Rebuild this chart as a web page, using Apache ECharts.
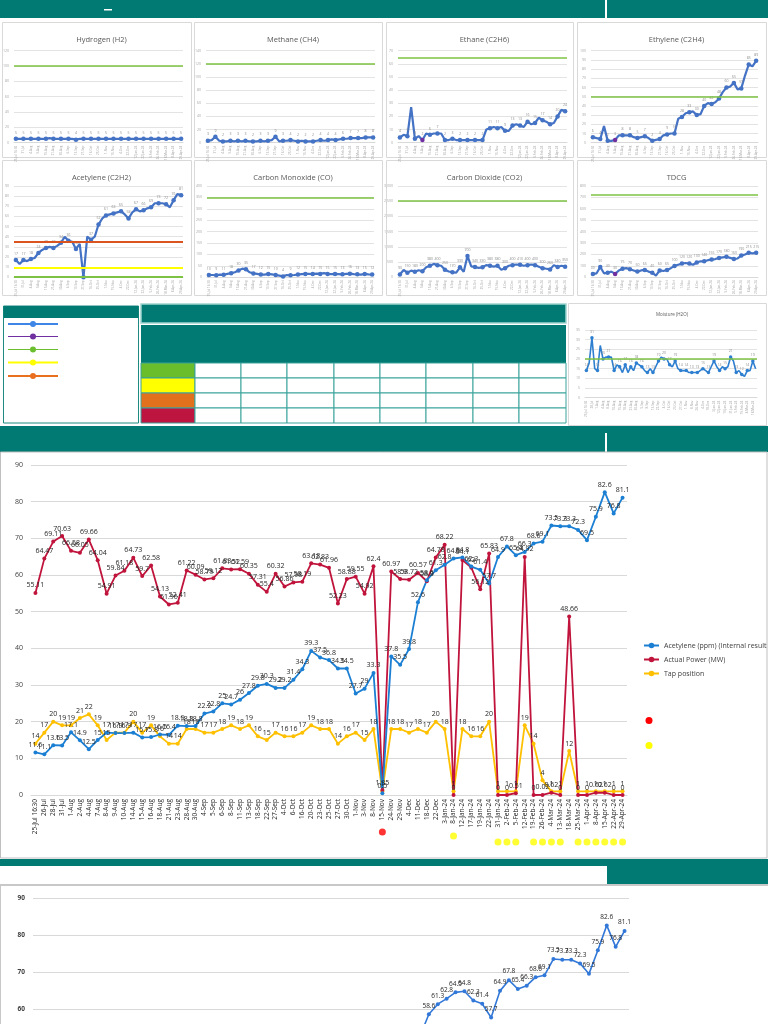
<!DOCTYPE html>
<html>
<head>
<meta charset="utf-8">
<title>DGA trend</title>
<script src="https://cdn.jsdelivr.net/npm/echarts@6/dist/echarts.min.js"></script>
<style>
    html, body { margin: 0; padding: 0; background: #fff; }
    #main { width: 768px; height: 1024px; }
</style>
</head>
<body>
<div id="main"></div>
<script>
// sampling dates (x axis of the big charts)
const dates = ['25-Jul 16:30', '26-Jul', '28-Jul', '31-Jul', '1-Aug', '2-Aug', '4-Aug', '7-Aug', '8-Aug', '9-Aug',
    '10-Aug', '14-Aug', '15-Aug', '16-Aug', '18-Aug', '21-Aug', '23-Aug', '28-Aug', '30-Aug', '4-Sep',
    '5-Sep', '6-Sep', '8-Sep', '11-Sep', '13-Sep', '18-Sep', '22-Sep', '27-Sep', '4-Oct', '6-Oct',
    '16-Oct', '20-Oct', '23-Oct', '25-Oct', '27-Oct', '30-Oct', '1-Nov', '3-Nov', '8-Nov', '15-Nov',
    '24-Nov', '29-Nov', '4-Dec', '11-Dec', '18-Dec', '22-Dec', '3-Jan-24', '8-Jan-24', '12-Jan-24', '17-Jan-24',
    '19-Jan-24', '22-Jan-24', '31-Jan-24', '2-Feb-24', '5-Feb-24', '12-Feb-24', '19-Feb-24', '26-Feb-24', '4-Mar-24', '13-Mar-24',
    '18-Mar-24', '25-Mar-24', '1-Apr-24', '8-Apr-24', '15-Apr-24', '22-Apr-24', '29-Apr-24'];

// Acetylene (ppm) (Internal result)
const acetylene = [11.6, 11.1, 13.6, 13.5, 17.1, 14.9, 12.5, 15, 17, 16.9,
    16.9, 17, 15.7, 15.8, 16.5, 16.4, 18.9, 18.8, 18.8, 22.2,
    22.8, 25, 24.7, 26, 27.8, 29.8, 30.3, 29.2, 29.2, 31.4,
    34.3, 39.3, 37.5, 36.8, 34.5, 34.5, 27.7, 29, 33.3, 0.5,
    37.8, 35.5, 39.8, 52.6, 58.6, 61.3, 62.8, 64.5, 64.8, 62.3,
    61.4, 57.7, 64.9, 67.8, 65.4, 66.3, 68.6, 69.1, 73.5, 73.3,
    73.3, 72.3, 69.5, 75.9, 82.6, 76.8, 81.1];

// Actual Power (MW)
const actualPower = [55.11, 64.47, 69.11, 70.63, 66.58, 66.05, 69.66, 64.04, 54.91, 59.84,
    61.18, 64.73, 59.7, 62.58, 54.13, 51.96, 52.41, 61.22, 60.09, 58.79,
    59.12, 61.83, 61.52, 61.59, 60.35, 57.31, 55.4, 60.32, 56.86, 57.98,
    58.19, 63.18, 62.83, 61.96, 52.23, 58.88, 59.55, 54.92, 62.4, 1.35,
    60.97, 58.9, 58.72, 60.57, 58.3, 64.78, 68.22, 0, 64.1, 62,
    56.12, 65.83, 0, 0, 0.51, 64.92, 0, 0.02, 0.62, 0,
    48.66, 0, 0, 0.62, 0.62, 0, 0];

// Tap position
const tapPosition = [14, 17, 20, 19, 19, 21, 22, 19, 15, 17,
    17, 20, 17, 19, 16, 14, 14, 18, 18, 17,
    17, 18, 19, 18, 19, 16, 15, 17, 16, 16,
    17, 19, 18, 18, 14, 16, 17, 15, 18, 1,
    18, 18, 17, 18, 17, 20, 18, 1, 18, 16,
    16, 20, 1, 1, 1, 19, 14, 4, 1, 1,
    12, 1, 1, 1, 1, 1, 1];

// dates flagged under the axis
const powerOffIdx = [39];
const tapOffIdx = [47, 52, 53, 54, 56, 57, 58, 59, 61, 62, 63, 64, 65, 66];

// small gas trend charts
const h2Data = [5, 5, 5, 5, 5, 5, 5, 5, 5, 6, 5, 5, 5, 5, 5, 5, 4, 5, 5, 5, 5, 5, 5,
    5, 5, 5, 5, 5, 5, 5, 5, 5, 5, 5, 5, 5, 5, 5, 5, 5, 5, 5, 5, 5, 5];
const ch4Data = [3, 4, 9, 3, 2, 2, 3, 2, 3, 2, 3, 2, 2, 2, 3, 2, 3, 4, 9, 2, 3, 3, 4,
    3, 2, 3, 2, 2, 2, 3, 4, 3, 4, 5, 4, 5, 6, 6, 7, 7, 7, 7, 8, 8, 8];
const c2h6Data = [4, 6, 5, 27, 3, 5, 2, 7, 6, 7, 7, 7, 2, 2, 3, 2, 2, 2, 2, 2, 2, 2, 2,
    10, 11, 12, 11, 12, 9, 9, 13, 14, 13, 12, 16, 14, 15, 19, 17, 16, 14, 15, 20, 25, 24];
const c2h4Data = [6, 5, 4, 18, 2, 2, 3, 8, 8, 8, 8, 6, 5, 6, 7, 5, 2, 3, 4, 8, 9, 10, 10,
    26, 28, 32, 33, 34, 30, 31, 40, 43, 42, 44, 48, 55, 60, 61, 65, 58, 59, 73, 85, 83, 89];
const c2h2Data = [17, 13, 17, 16, 18, 19, 24, 27, 29, 30, 29, 31, 34, 40, 36, 35, 28, 33, 0,
    40, 37, 40, 52, 58, 61, 62, 63, 64, 65, 62, 58, 64, 67, 65, 66, 68, 69, 73, 73, 73, 72, 69, 76, 82, 81];
const coData = [10, 10, 9, 12, 11, 15, 18, 22, 30, 38, 35, 22, 17, 15, 12, 12, 15, 13, 10, 7, 4, 10, 9,
    10, 12, 14, 15, 15, 14, 16, 15, 18, 15, 14, 15, 14, 13, 15, 16, 14, 13, 12, 15, 13, 12];
const co2Data = [90, 240, 150, 220, 180, 230, 200, 330, 380, 440, 400, 380, 250, 190, 170, 150, 330, 180, 700, 360, 340, 310, 330,
    400, 380, 350, 380, 250, 300, 380, 400, 420, 410, 380, 400, 420, 400, 350, 300, 280, 260, 400, 340, 380, 350];
const tdcgData = [30, 35, 90, 35, 40, 50, 30, 60, 75, 80, 70, 60, 50, 60, 65, 50, 40, 15, 60, 55, 65, 80, 100,
    110, 120, 125, 120, 110, 130, 140, 140, 150, 155, 160, 170, 175, 180, 170, 160, 165, 190, 200, 215, 210, 215];
const moistureData = [14, 18, 31, 15, 14, 27, 20, 21, 21, 21, 14, 17, 16, 13, 17, 13, 16, 14, 18, 17, 16,
    14, 13, 15, 13, 16, 19, 21, 20, 20, 17, 16, 19, 15, 14, 14, 14, 13, 13, 13, 13, 14,
    15, 14, 13, 16, 19, 16, 14, 16, 15, 16, 21, 19, 13, 14, 12, 11, 14, 14, 19, 15];

// limit lines
const h2Limit = 100;
const ch4Limit = 120;
const c2h6Limit = 65;
const c2h4Limit = 50;
const c2h2Limits = [35, 9, 1];
const coLimit = 350;
const co2Limit = 2500;
const tdcgLimit = 720;
const moistureLimit = 20;

const miniDates = dates.filter(function (d, i) { return i % 3 !== 2; });

const teal = '#007a72';
const miniBlue = '#4472c4';
const green = '#7dc242';

// small panels: box = frame, plot = grid rect
const panels = [
    {title: 'Hydrogen (H2)', data: h2Data, cats: miniDates, max: 120, step: 20, limits: [[h2Limit, green]], box: [2, 22, 189, 135], plot: [14, 50.7, 169, 92]},
    {title: 'Methane (CH4)', data: ch4Data, cats: miniDates, max: 140, step: 20, limits: [[ch4Limit, green]], box: [194, 22, 188, 135], plot: [206, 50.7, 169, 92]},
    {title: 'Ethane (C2H6)', data: c2h6Data, cats: miniDates, max: 70, step: 10, limits: [[c2h6Limit, green]], box: [386, 22, 187, 135], plot: [398, 50.7, 169, 92], purple: [6]},
    {title: 'Ethylene (C2H4)', data: c2h4Data, cats: miniDates, max: 100, step: 10, limits: [[c2h4Limit, green]], box: [577, 22, 189, 135], plot: [591, 50.7, 167, 92], purple: [6, 19]},
    {title: 'Acetylene (C2H2)', data: c2h2Data, cats: miniDates, max: 90, step: 10, limits: [[c2h2Limits[0], '#d9541e'], [c2h2Limits[1], '#ffff00'], [c2h2Limits[2], green]], box: [2, 160, 189, 135], plot: [14, 186, 169, 91.3], purple: [5, 19]},
    {title: 'Carbon Monoxide (CO)', data: coData, cats: miniDates, max: 400, step: 50, limits: [[coLimit, green]], box: [194, 160, 188, 135], plot: [207, 186, 167, 91.3], purple: [7]},
    {title: 'Carbon Dioxide (CO2)', data: co2Data, cats: miniDates, max: 3000, step: 500, limits: [[co2Limit, green]], box: [386, 160, 187, 135], plot: [398, 186, 169, 91.3]},
    {title: 'TDCG', data: tdcgData, cats: miniDates, max: 800, step: 100, limits: [[tdcgLimit, green]], box: [577, 160, 189, 135], plot: [591, 186, 167, 91.3], purple: [6]},
    {title: 'Moisture (H2O)', data: moistureData, cats: dates.slice(0, moistureData.length), max: 35, step: 5, limits: [[moistureLimit, green]], box: [568, 303, 198, 122], plot: [585, 330, 172, 67.7], small: true}
];

let option = {
    animation: false,
    backgroundColor: '#fff',
    textStyle: {fontFamily: 'Open Sans, Noto Sans, sans-serif'},
    title: [],
    grid: [],
    xAxis: [],
    yAxis: [],
    series: [],
    graphic: []
};

//小图
panels.forEach(function (p, i) {
    option.title.push({
        text: p.title,
        left: p.box[0] + p.box[2] / 2,
        top: p.small ? p.box[1] + 4 : p.box[1] + 9,
        textAlign: 'center',
        textStyle: {fontSize: p.small ? 4.5 : 7.5, fontWeight: 'normal', color: '#595959'}
    });
    option.grid.push({left: p.plot[0], top: p.plot[1], width: p.plot[2], height: p.plot[3], outerBoundsMode: 'none'});
    option.xAxis.push({
        type: 'category', gridIndex: i, data: p.cats,
        axisLine: {lineStyle: {color: '#d9d9d9'}},
        axisTick: {show: false},
        axisLabel: {rotate: 90, interval: 1, fontSize: 3, color: '#a6a6a6', margin: 3}
    });
    option.yAxis.push({
        type: 'value', gridIndex: i, min: 0, max: p.max, interval: p.step,
        splitLine: {lineStyle: {color: '#e3e3e3'}},
        axisLabel: {fontSize: 3.5, color: '#a6a6a6', margin: 5}
    });
    let purple = p.purple || [];
    option.series.push({
        type: 'line', xAxisIndex: i, yAxisIndex: i,
        data: p.data.map(function (v, k) {
            return purple.indexOf(k) >= 0 ? {value: v, itemStyle: {color: '#7030a0'}} : v;
        }),
        symbol: 'circle', symbolSize: p.small ? 3.5 : 4.5,
        lineStyle: {width: p.small ? 1.6 : 2.2, color: p.small ? '#2e7fd0' : miniBlue},
        itemStyle: {color: p.small ? '#2e7fd0' : miniBlue},
        label: {show: true, position: 'top', distance: 2, fontSize: 3.5, color: '#8c8c8c'},
        markLine: {
            silent: true, symbol: 'none', label: {show: false},
            data: p.limits.map(function (l) {
                return {yAxis: l[0], lineStyle: {color: l[1], width: i === 4 ? 2.2 : 1.6, type: 'solid'}};
            })
        }
    });
    option.graphic.push({type: 'rect', shape: {x: p.box[0] + 0.5, y: p.box[1] + 0.5, width: p.box[2], height: p.box[3]},
        style: {fill: 'none', stroke: '#d9d9d9', lineWidth: 1}});
});

//主图
let mainIdx = option.grid.length;
option.grid.push({left: 31, top: 465, width: 596, height: 330, outerBoundsMode: 'none'});
option.xAxis.push({
    type: 'category', gridIndex: mainIdx, data: dates,
    axisLine: {lineStyle: {color: '#d9d9d9'}},
    axisTick: {show: false},
    axisLabel: {rotate: 90, interval: 0, fontSize: 6.5, color: '#262626', margin: 4}
});
option.yAxis.push({
    type: 'value', gridIndex: mainIdx, min: 0, max: 90, interval: 10,
    splitLine: {lineStyle: {color: '#d9d9d9'}},
    axisLabel: {fontSize: 7, color: '#404040', margin: 8}
});
let mainLabel = {show: true, position: 'top', distance: 2, fontSize: 7, color: '#262626'};
option.series.push({
    name: 'Tap position', type: 'line', xAxisIndex: mainIdx, yAxisIndex: mainIdx, data: tapPosition,
    symbol: 'circle', symbolSize: 4, lineStyle: {width: 1.8, color: '#ffc000'}, itemStyle: {color: '#ffc000'},
    label: mainLabel
});
option.series.push({
    name: 'Actual Power (MW)', type: 'line', xAxisIndex: mainIdx, yAxisIndex: mainIdx, data: actualPower,
    symbol: 'circle', symbolSize: 4, lineStyle: {width: 1.8, color: '#c0143c'}, itemStyle: {color: '#c0143c'},
    label: mainLabel
});
option.series.push({
    name: 'Acetylene (ppm) (Internal result', type: 'line', xAxisIndex: mainIdx, yAxisIndex: mainIdx, data: acetylene,
    symbol: 'circle', symbolSize: 4, lineStyle: {width: 1.8, color: '#1b7fd3'}, itemStyle: {color: '#1b7fd3'},
    label: mainLabel
});
// 轴下标记点
let marks = powerOffIdx.map(function (k) {
    return {value: [k, -10.1], itemStyle: {color: '#ff0000'}};
}).concat(tapOffIdx.map(function (k) {
    return {value: [k, k === 47 ? -11.2 : -12.8], itemStyle: {color: '#ffff00'}};
}));
option.series.push({
    name: 'marks', type: 'scatter', xAxisIndex: mainIdx, yAxisIndex: mainIdx, data: marks,
    symbolSize: 7, clip: false, silent: true
});
option.legend = {
    data: ['Acetylene (ppm) (Internal result', 'Actual Power (MW)', 'Tap position'],
    orient: 'vertical', left: 638, top: 637, itemWidth: 15, itemHeight: 7, itemGap: 7,
    textStyle: {fontSize: 7, color: '#404040'}
};

//底部图（下方被截断）
let lowIdx = option.grid.length;
option.grid.push({left: 33, top: 898, width: 596, height: 333, outerBoundsMode: 'none'});
option.xAxis.push({
    type: 'category', gridIndex: lowIdx, data: dates,
    axisLine: {lineStyle: {color: '#d9d9d9'}}, axisTick: {show: false}, axisLabel: {show: false}
});
option.yAxis.push({
    type: 'value', gridIndex: lowIdx, min: 0, max: 90, interval: 10,
    splitLine: {lineStyle: {color: '#d9d9d9'}},
    axisLabel: {fontSize: 6.5, color: '#404040', margin: 8, fontWeight: 'bold'}
});
option.series.push({
    type: 'line', xAxisIndex: lowIdx, yAxisIndex: lowIdx, data: acetylene,
    symbol: 'circle', symbolSize: 4, lineStyle: {width: 1.6, color: '#3278d8'}, itemStyle: {color: '#3278d8'},
    label: {show: true, position: 'top', distance: 3, fontSize: 6.5, color: '#262626'}
});

//装饰
let g = option.graphic;
g.push({type: 'rect', shape: {x: 0, y: 0, width: 768, height: 18}, style: {fill: teal}});
g.push({type: 'rect', shape: {x: 605, y: 0, width: 2, height: 18}, style: {fill: '#fff'}});
g.push({type: 'rect', shape: {x: 104, y: 9, width: 8, height: 1.5}, style: {fill: '#fff'}});

// legend box
g.push({type: 'rect', shape: {x: 3.5, y: 306, width: 135, height: 117}, style: {fill: '#fff', stroke: '#1f8a82', lineWidth: 1}});
g.push({type: 'rect', shape: {x: 3.5, y: 306, width: 135, height: 12}, style: {fill: teal}});
[['#3d85e6', 324, 2.2], ['#7030a0', 336.5, 1.2], ['#6bbf2f', 349.5, 1.2], ['#ffff00', 362.5, 2.2], ['#e8701f', 376, 2.2]].forEach(function (r) {
    g.push({type: 'line', shape: {x1: 8, y1: r[1], x2: 58, y2: r[1]}, style: {stroke: r[0], lineWidth: r[2]}});
    g.push({type: 'circle', shape: {cx: 33, cy: r[1], r: 3}, style: {fill: r[0]}});
});

// table
g.push({type: 'rect', shape: {x: 141, y: 304, width: 425, height: 19}, style: {fill: teal, stroke: '#9fd3cf', lineWidth: 1.5}});
g.push({type: 'rect', shape: {x: 141, y: 325, width: 425, height: 38}, style: {fill: teal}});
let cols = [141, 195, 241, 287, 334, 380, 426, 473, 519, 566];
let rows = [363, 378, 393, 408, 423];
let rowColors = ['#6abd2b', '#ffff00', '#e2711d', '#be1540'];
for (let r = 0; r < 4; r++) {
    for (let c = 0; c < cols.length - 1; c++) {
        g.push({type: 'rect', shape: {x: cols[c], y: rows[r], width: cols[c + 1] - cols[c], height: rows[r + 1] - rows[r]},
            style: {fill: c === 0 ? rowColors[r] : '#fff', stroke: '#3aa39b', lineWidth: 1}});
    }
}

// section bands
g.push({type: 'rect', shape: {x: 0, y: 426, width: 768, height: 26}, style: {fill: teal}});
g.push({type: 'rect', shape: {x: 605, y: 433, width: 2, height: 19}, style: {fill: '#fff'}});
g.push({type: 'rect', shape: {x: 0.5, y: 452, width: 766.5, height: 406}, style: {fill: 'none', stroke: '#bfbfbf', lineWidth: 1}});
g.push({type: 'circle', shape: {cx: 649, cy: 720.5, r: 3.5}, style: {fill: '#ff0000'}});
g.push({type: 'circle', shape: {cx: 649, cy: 745.5, r: 3.5}, style: {fill: '#ffff00'}});
g.push({type: 'rect', shape: {x: 0, y: 859, width: 768, height: 26}, style: {fill: teal}});
g.push({type: 'rect', shape: {x: 0, y: 866, width: 607, height: 18}, style: {fill: '#fff'}});
g.push({type: 'rect', shape: {x: 0, y: 884, width: 768, height: 2}, style: {fill: '#c8c8c8'}});
g.push({type: 'line', shape: {x1: 0.5, y1: 886, x2: 0.5, y2: 1024}, style: {stroke: '#c8c8c8', lineWidth: 1}});

let myChart = echarts.init(document.getElementById('main'));
myChart.setOption(option);
</script>
</body>
</html>
